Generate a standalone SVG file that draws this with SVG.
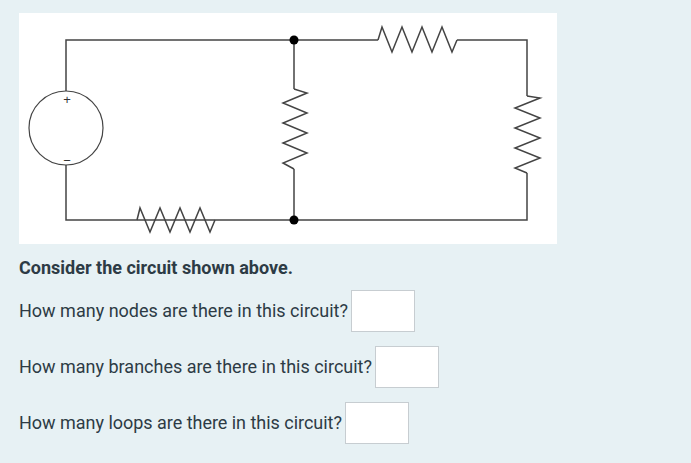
<svg xmlns="http://www.w3.org/2000/svg" width="691" height="463" viewBox="0 0 691 463">
<style>
.w{fill:none;stroke:#444;stroke-width:1.5;stroke-linejoin:miter}
.t{font-family:Roboto,"Liberation Sans",sans-serif;font-size:18px;fill:#2d3b45}
.box{fill:#fff;stroke:#c7cdd1;stroke-width:1}
</style>
<rect width="691" height="463" fill="#e7f1f4"/>
<rect x="19" y="13" width="538" height="231" fill="#fff"/>
<g id="connectors">
<path class="w" d="M66,91 V40 H378 M457,40 H527 V96 M527,173 V220 H66 V165 M66,220 H137 M215,220 H294 M294,40 V89 M294,169 V220"/>
</g>
<g id="source">
<circle cx="66" cy="128" r="37" fill="none" stroke="#444" stroke-width="1.2"/>
<text x="67" y="104" font-family="Liberation Sans,sans-serif" font-size="13" text-anchor="middle" fill="#333">+</text>
<text x="67" y="165" font-family="Liberation Sans,sans-serif" font-size="13" text-anchor="middle" fill="#333">−</text>
</g>
<g id="r-bottom"><polyline class="w" points="137,220 140,208 150,232 160,208 170,232 180,208 190,232 200,208 210,232 215,220"/></g>
<g id="r-middle"><polyline class="w" points="294,89 307,93 283,103 307,113 283,123 307,133 283,143 307,153 283,163 294,169"/></g>
<g id="r-top"><polyline class="w" points="378,40 382,27 392,52 402,27 412,52 422,27 432,52 442,27 452,52 457,40"/></g>
<g id="r-right"><polyline class="w" points="527,96 540,98 515,108 540,118 515,128 540,138 515,148 540,158 515,168 527,173"/></g>
<g id="nodes"><circle cx="294" cy="40" r="4.5" fill="#000"/><circle cx="294" cy="220" r="4.5" fill="#000"/></g>
<g id="text">
<text class="t" x="19" y="274" font-weight="bold" textLength="274">Consider the circuit shown above.</text>
<text class="t" x="19" y="317" textLength="329">How many nodes are there in this circuit?</text>
<text class="t" x="19" y="373" textLength="353">How many branches are there in this circuit?</text>
<text class="t" x="19" y="429" textLength="323">How many loops are there in this circuit?</text>
<rect class="box" x="351.5" y="290.5" width="63" height="41"/>
<rect class="box" x="375.5" y="346.5" width="63" height="41"/>
<rect class="box" x="345.5" y="402.5" width="63" height="41"/>
</g>
</svg>
